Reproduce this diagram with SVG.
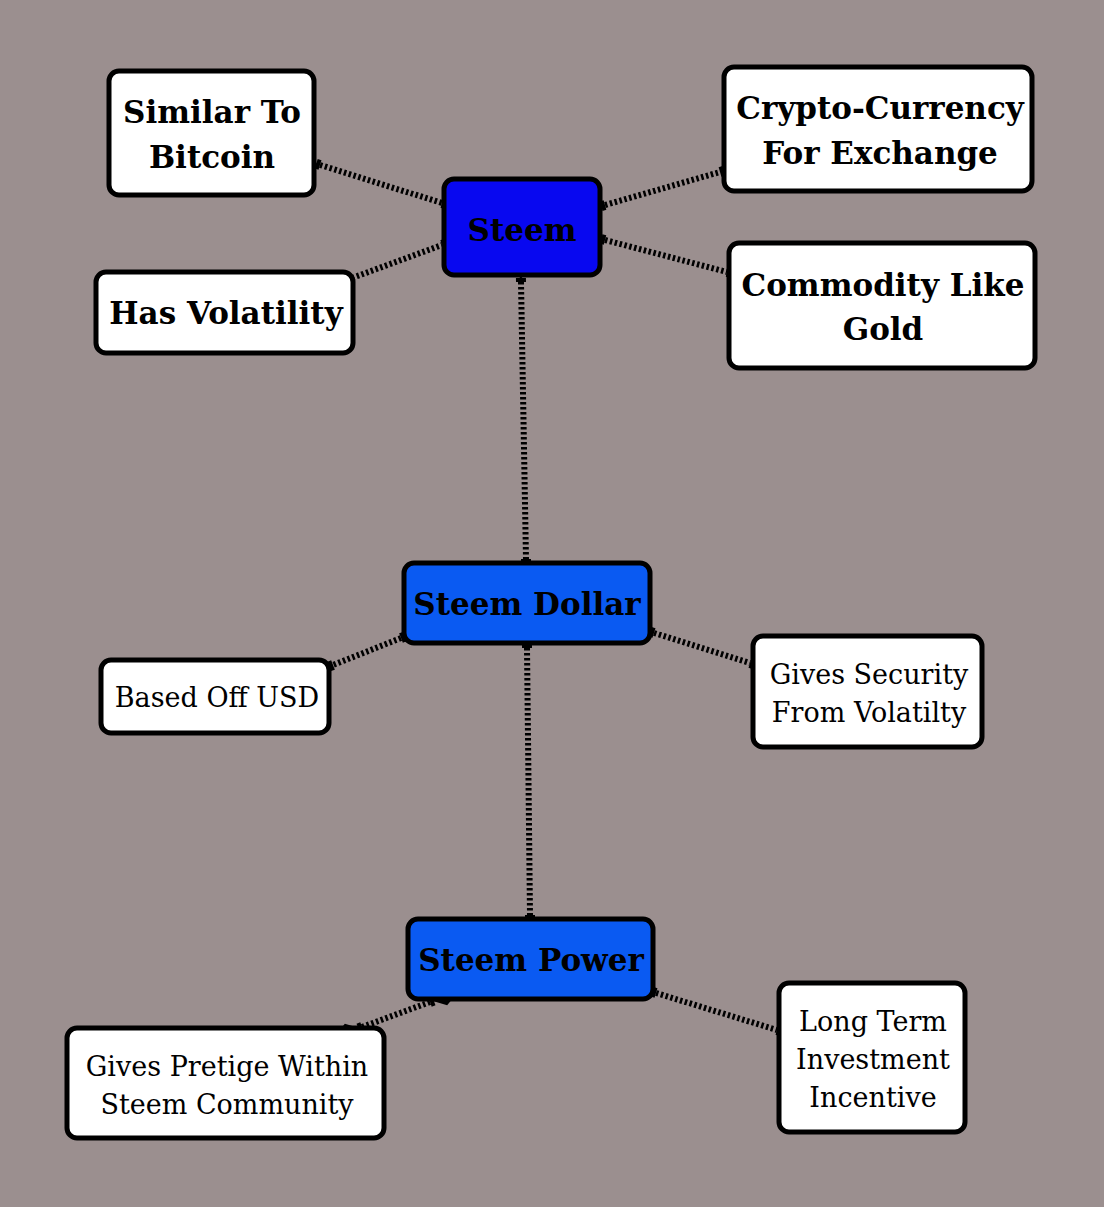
<svg xmlns="http://www.w3.org/2000/svg" width="1104" height="1207" viewBox="0 0 1104 1207">
<style>
.b{fill:#fff;stroke:#000;stroke-width:5}
.m{stroke:#000;stroke-width:5}
.t{font-family:"DejaVu Serif",serif;font-weight:bold;font-size:31px;text-anchor:middle;fill:#000}
.r{font-family:"DejaVu Serif",serif;font-size:27px;text-anchor:middle;fill:#000}
.c{stroke:#000;stroke-width:6;stroke-dasharray:2.5 2.5;fill:none;marker-start:url(#d);marker-end:url(#d)}
</style>
<defs>
<marker id="d" markerUnits="userSpaceOnUse" viewBox="-2 -10 34 20" refX="0" refY="0" markerWidth="34" markerHeight="20" orient="auto-start-reverse">
<rect x="0" y="-5" width="4" height="10" fill="#000"/>
<path d="M3 0 L15 -9 L30 0 L15 9 Z" fill="#000"/>
</marker>
</defs>
<rect width="1104" height="1207" fill="#9b8f8f"/>
<g id="connectors">
<line class="c" x1="320" y1="165" x2="442" y2="203"/>
<line class="c" x1="352" y1="278" x2="442" y2="245"/>
<line class="c" x1="605" y1="205" x2="720" y2="172"/>
<line class="c" x1="605" y1="240" x2="727" y2="272"/>
<line class="c" x1="521" y1="282" x2="526" y2="559"/>
<line class="c" x1="401" y1="638" x2="333" y2="665"/>
<line class="c" x1="654" y1="633" x2="750" y2="663"/>
<line class="c" x1="527" y1="648" x2="530" y2="915"/>
<line class="c" x1="430" y1="1002" x2="362" y2="1027"/>
<line class="c" x1="656" y1="993" x2="777" y2="1030"/>
</g>
<g id="steem"><rect class="m" x="444" y="179" width="156" height="96" rx="10" fill="#0808f0"/><text class="t" x="522" y="241" font-size="38">Steem</text></g>
<g id="dollar"><rect class="m" x="404" y="563" width="246" height="80" rx="10" fill="#0a5af2"/><text class="t" x="527" y="615">Steem Dollar</text></g>
<g id="power"><rect class="m" x="408" y="919" width="245" height="80" rx="10" fill="#0a5af2"/><text class="t" x="531" y="971">Steem Power</text></g>
<g id="similar"><rect class="b" x="109" y="71" width="205" height="124" rx="10"/><text class="t" x="212" y="123">Similar To</text><text class="t" x="212" y="168">Bitcoin</text></g>
<g id="crypto"><rect class="b" x="724" y="67" width="308" height="124" rx="10"/><text class="t" x="880" y="119">Crypto-Currency</text><text class="t" x="880" y="164">For Exchange</text></g>
<g id="volatility"><rect class="b" x="96" y="272" width="257" height="81" rx="10"/><text class="t" x="226" y="324">Has Volatility</text></g>
<g id="commodity"><rect class="b" x="729" y="243" width="306" height="125" rx="10"/><text class="t" x="883" y="296">Commodity Like</text><text class="t" x="883" y="340">Gold</text></g>
<g id="usd"><rect class="b" x="101" y="660" width="228" height="73" rx="10"/><text class="r" x="217" y="707">Based Off USD</text></g>
<g id="security"><rect class="b" x="753" y="636" width="229" height="111" rx="10"/><text class="r" x="869" y="684">Gives Security</text><text class="r" x="869" y="722">From Volatilty</text></g>
<g id="prestige"><rect class="b" x="67" y="1028" width="317" height="110" rx="10"/><text class="r" x="227" y="1076">Gives Pretige Within</text><text class="r" x="227" y="1114">Steem Community</text></g>
<g id="longterm"><rect class="b" x="779" y="983" width="186" height="149" rx="10"/><text class="r" x="873" y="1031">Long Term</text><text class="r" x="873" y="1069">Investment</text><text class="r" x="873" y="1107">Incentive</text></g>
</svg>
